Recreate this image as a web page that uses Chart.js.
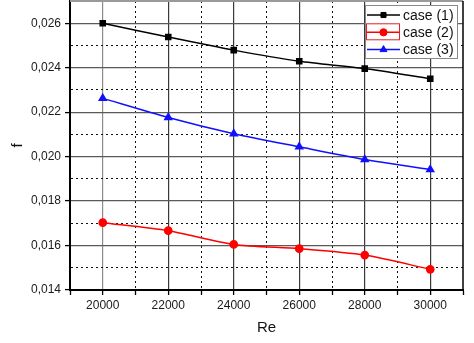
<!DOCTYPE html>
<html>
<head>
<meta charset="utf-8">
<style>
  html, body { margin: 0; padding: 0; background: #fff; }
  #wrap { width: 474px; height: 343px; position: relative; }
</style>
<script src="https://cdn.jsdelivr.net/npm/chart.js@4/dist/chart.umd.min.js"></script>
</head>
<body>
<div id="wrap"><canvas id="c" width="474" height="343"></canvas></div>
<script>
// Reynolds numbers on the x axis
const reynolds = [20000, 22000, 24000, 26000, 28000, 30000];

// Friction factor f for each case
const case1 = [0.0260, 0.02538, 0.02479, 0.02429, 0.02396, 0.0235];
const case2 = [0.01703, 0.01667, 0.01605, 0.01586, 0.01557, 0.01493];
const case3 = [0.02262, 0.02176, 0.02103, 0.02044, 0.01987, 0.01942];

const seriesNames = ['case (1)', 'case (2)', 'case (3)'];

const FONT = "'Liberation Sans', Arial, sans-serif";

const toPoints = (vals) => reynolds.map((x, i) => ({ x, y: vals[i] }));

const isMajorX = (v) => v % 2000 === 0;
const isMajorY = (v) => Math.round(v * 1000) % 2 === 0;

// Legend box with line + marker samples
const legendBox = {
  id: 'legendBox',
  afterDraw(chart) {
    const ctx = chart.ctx;
    const x0 = 365, y0 = 5, w = 92, h = 53;
    ctx.save();
    ctx.fillStyle = '#fff';
    ctx.fillRect(x0, y0, w, h);
    ctx.strokeStyle = '#8a8a8a';
    ctx.lineWidth = 1;
    ctx.strokeRect(x0 + 0.5, y0 + 0.5, w, h);
    chart.data.datasets.forEach((ds, i) => {
      const cy = 15 + i * 17.3;
      ctx.strokeStyle = ds.borderColor;
      ctx.fillStyle = ds.borderColor;
      ctx.lineWidth = 1.5;
      ctx.beginPath();
      ctx.moveTo(367, cy);
      ctx.lineTo(400, cy);
      ctx.stroke();
      ctx.lineWidth = 1;
      Chart.helpers.drawPoint(ctx, {
        pointStyle: ds.pointStyle,
        radius: ds.pointRadius,
        borderWidth: 1
      }, 383.5, cy);
      if (i === 1) {
        ctx.strokeStyle = '#e0202a';
        ctx.lineWidth = 1;
        ctx.strokeRect(366.5, cy - 8.5, 33, 16);
      }
      ctx.fillStyle = '#111';
      ctx.font = '14px ' + FONT;
      ctx.textBaseline = 'middle';
      ctx.textAlign = 'left';
      ctx.fillText(seriesNames[i], 403, cy + 1);
    });
    ctx.restore();
  }
};

// Frame: grey top edge, black right edge
const frame = {
  id: 'frame',
  afterDatasetsDraw(chart) {
    const { ctx, chartArea: a } = chart;
    ctx.save();
    ctx.strokeStyle = '#9a9a9a';
    ctx.lineWidth = 2;
    ctx.beginPath();
    ctx.moveTo(a.left, a.top);
    ctx.lineTo(a.right, a.top);
    ctx.stroke();
    ctx.strokeStyle = '#000';
    ctx.lineWidth = 1.5;
    ctx.beginPath();
    ctx.moveTo(a.right, a.top);
    ctx.lineTo(a.right, a.bottom);
    ctx.stroke();
    ctx.restore();
  }
};

const mkSet = (label, vals, color, style, r) => ({
  label,
  data: toPoints(vals),
  borderColor: color,
  backgroundColor: color,
  pointBackgroundColor: color,
  pointBorderColor: color,
  borderWidth: 1.5,
  pointStyle: style,
  pointRadius: r,
  pointHoverRadius: r,
  tension: 0.25,
  fill: false
});

new Chart(document.getElementById('c'), {
  type: 'line',
  data: {
    datasets: [
      mkSet(seriesNames[0], case1, '#000000', 'rect', 3.6),
      mkSet(seriesNames[1], case2, '#ff0000', 'circle', 3.6),
      mkSet(seriesNames[2], case3, '#1010ff', 'triangle', 4)
    ]
  },
  options: {
    responsive: false,
    animation: false,
    events: [],
    layout: { autoPadding: false, padding: { top: 1, right: 11, left: 0, bottom: 0 } },
    plugins: { legend: { display: false }, tooltip: { enabled: false } },
    scales: {
      x: {
        type: 'linear',
        min: 19000,
        max: 31000,
        afterFit(s) { s.height = 53; s.paddingLeft = 0; s.paddingRight = 0; },
        ticks: {
          stepSize: 1000,
          autoSkip: false,
          maxRotation: 0,
          color: '#1a1a1a',
          font: { family: FONT, size: 12 },
          padding: 3,
          callback: (v) => (isMajorX(v) && v >= 20000 && v <= 30000) ? String(v) : ''
        },
        grid: {
          color: (c) => {
            const v = c.tick ? c.tick.value : 0;
            if (v <= 19000 || v >= 31000) return 'rgba(0,0,0,0)';
            return isMajorX(v) ? (v === 20000 ? '#8c8c8c' : '#3a3a3a') : '#111';
          },
          lineWidth: (c) => (c.tick && isMajorX(c.tick.value)) ? 1.2 : 1,
          tickLength: 5,
          tickColor: '#000',
          tickWidth: 1.3
        },
        border: {
          color: '#000',
          width: 2,
          dash: (c) => (c.tick && !isMajorX(c.tick.value)) ? [2, 3] : []
        },
        title: {
          display: true,
          text: 'Re',
          color: '#111',
          font: { family: FONT, size: 15 },
          padding: { top: 0, bottom: 6 }
        }
      },
      y: {
        type: 'linear',
        min: 0.014,
        max: 0.027,
        afterFit(s) { s.width = 70; s.paddingTop = 0; s.paddingBottom = 0; },
        ticks: {
          stepSize: 0.001,
          autoSkip: false,
          color: '#1a1a1a',
          font: { family: FONT, size: 12 },
          padding: 4,
          callback: (v) => isMajorY(v) ? v.toFixed(3).replace('.', ',') : ''
        },
        grid: {
          color: (c) => {
            const v = c.tick ? c.tick.value : 0;
            if (v <= 0.01401 || v >= 0.02699) return 'rgba(0,0,0,0)';
            return isMajorY(v) ? '#5a5a5a' : '#111';
          },
          lineWidth: (c) => (c.tick && isMajorY(c.tick.value)) ? 1.2 : 1,
          tickLength: 5,
          tickColor: (c) => (c.tick && isMajorY(c.tick.value)) ? '#000' : 'rgba(0,0,0,0)',
          tickWidth: 1.3
        },
        border: {
          color: '#000',
          width: 2,
          dash: (c) => (c.tick && !isMajorY(c.tick.value)) ? [2, 3] : []
        },
        title: {
          display: true,
          text: 'f',
          color: '#111',
          font: { family: FONT, size: 15 },
          padding: { top: 9, bottom: 0 }
        }
      }
    }
  },
  plugins: [frame, legendBox]
});
</script>
</body>
</html>
